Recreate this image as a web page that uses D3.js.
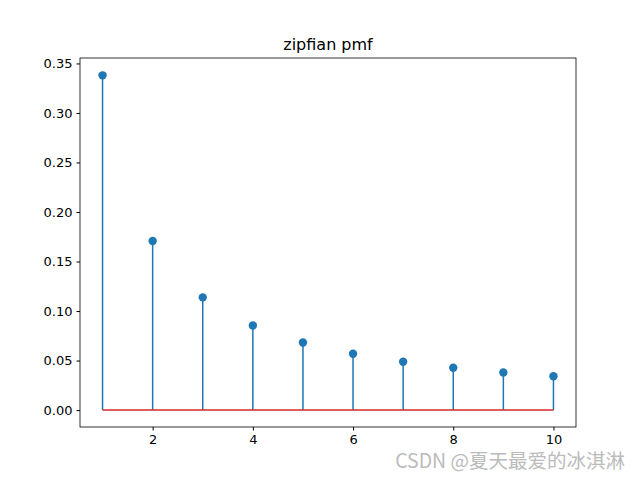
<!DOCTYPE html>
<html><head><meta charset="utf-8">
<script src="https://cdn.jsdelivr.net/npm/d3@7"></script>
<style>body{margin:0;background:#fff}text{font-family:"DejaVu Sans",sans-serif}</style>
</head><body>
<script>
const ks = [1,2,3,4,5,6,7,8,9,10];
const pmf = [0.338,0.1707,0.1138,0.0854,0.0683,0.0569,0.0488,0.0427,0.0379,0.0341];
const xTicks = [2,4,6,8,10];
const yTicks = [0,0.05,0.10,0.15,0.20,0.25,0.30,0.35];

const W=640,H=480, L=80,R=576,T=58,B=427;
const svg=d3.select("body").append("svg").attr("width",W).attr("height",H);
const x=d3.scaleLinear().domain([0.55,10.45]).range([L,R]);
const y=d3.scaleLinear().domain([-0.0171,0.3555]).range([B,T]);

svg.append("g").attr("transform",`translate(0,${B})`)
  .call(d3.axisBottom(x).tickValues(xTicks).tickSize(3.5).tickPadding(4).tickFormat(d3.format("d")))
  .call(g=>g.select(".domain").remove());
svg.append("g").attr("transform",`translate(${L},0)`)
  .call(d3.axisLeft(y).tickValues(yTicks).tickSize(3.5).tickPadding(4).tickFormat(d3.format(".2f")))
  .call(g=>g.select(".domain").remove());
svg.selectAll(".tick text").attr("font-size",13).attr("fill","#000").style("font-family","'DejaVu Sans',sans-serif");

const c="#1f77b4";
svg.selectAll(".stem").data(ks).join("line")
  .attr("x1",d=>x(d)).attr("x2",d=>x(d)).attr("y1",y(0)).attr("y2",(d,i)=>y(pmf[i]))
  .attr("stroke",c).attr("stroke-width",1.5);
svg.append("line").attr("x1",x(1)).attr("x2",x(10)).attr("y1",y(0)).attr("y2",y(0))
  .attr("stroke","#d62728").attr("stroke-width",1.5);
svg.selectAll(".mk").data(ks).join("circle")
  .attr("cx",d=>x(d)).attr("cy",(d,i)=>y(pmf[i])).attr("r",4.2).attr("fill",c);

svg.append("rect").attr("x",L).attr("y",T).attr("width",R-L).attr("height",B-T)
  .attr("fill","none").attr("stroke","#000").attr("stroke-width",0.8);
svg.append("text").attr("x",(L+R)/2).attr("y",T-8).attr("text-anchor","middle")
  .attr("font-size",16).text("zipfian pmf");
svg.append("text").attr("x",625).attr("y",468).attr("text-anchor","end")
  .attr("font-size",19.5).attr("fill","#bbb")
  .style("font-family","'Noto Sans CJK SC',sans-serif").text("CSDN @夏天最爱的冰淇淋");
</script>
</body></html>
